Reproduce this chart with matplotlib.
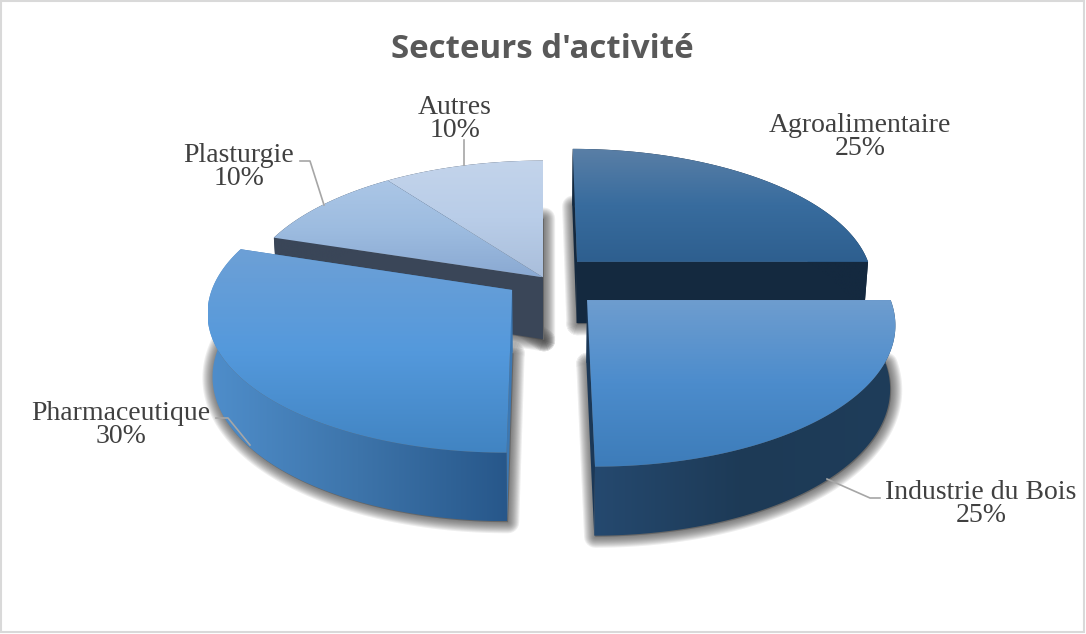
#!/usr/bin/env python
import numpy as np
import matplotlib
matplotlib.use('agg')
import matplotlib.pyplot as plt
from matplotlib.colors import LinearSegmentedColormap
from matplotlib.patches import Polygon, Rectangle

TITLE = "Secteurs d'activité"
sectors = ['Agroalimentaire', 'Industrie du Bois', 'Pharmaceutique', 'Plasturgie', 'Autres']
shares = [25, 25, 30, 10, 10]

# explode offsets of each slice, in pie radii
explode_u = [0.117, 0.145, -0.103, 0.0, 0.0]
explode_v = [0.137, -0.145, -0.073, 0.02, 0.02]

# top face colours (top to bottom of slice)
top_colors = [['#5a7fa6', '#386c9e', '#2e5f8f'],
              ['#6e9dcf', '#4c8ccc', '#3d7cb9'],
              ['#6da0d6', '#5499dc', '#4184c2'],
              ['#abc6e6', '#9dbce0', '#8aa9d2'],
              ['#c3d4eb', '#b9cde8', '#a9bedb']]
# outer wall colours (left to right)
wall_colors = [['#14293f', '#14293f'],
               ['#25496f', '#1d3a56', '#1f3d5a'],
               ['#4f8ecb', '#3d74aa', '#27578a'],
               ['#3a4658', '#3a4658'],
               ['#3a4658', '#3a4658']]
radial_colors = ['#14293f', '#1b3857', '#3c78b3', '#3a4658', '#3a4658']
# which cut faces can be seen (0 = first edge, -1 = last edge)
radial_faces = [[0, -1], [0, -1], [0, -1], [0], []]

# label text anchor, leader line
label_pos = [(860, 137), (981, 504), (121, 425), (239, 167), (455, 119)]
leaders = [None,
           [(827, 479), (870, 498), (880, 498)],
           [(216, 418), (228, 418), (250, 445)],
           [(300, 161), (310, 161), (324, 205)],
           [(464, 140), (464, 165)]]

# perspective of the pie plane
X0, Y0 = 543, 280
A, B, K = 297, 135, 0.15
DEPTH, SHRINK = 62, 0.985

plt.rcParams['font.family'] = ['Liberation Serif', 'DejaVu Serif']


def project(u, v, low=False):
    w = 1 + K * v
    x = X0 + A * u / w
    y = Y0 - B * v / w
    if low:
        x = X0 + (x - X0) * SHRINK
        y = y + DEPTH / w ** 0.57
    return np.column_stack([x, y])


def grad_fill(ax, pts, colors, vertical=True, z=1):
    cmap = LinearSegmentedColormap.from_list('g', colors)
    g = np.linspace(0, 1, 256)
    g = g[:, None] if vertical else g[None, :]
    x0, x1 = pts[:, 0].min(), pts[:, 0].max()
    y0, y1 = pts[:, 1].min(), pts[:, 1].max()
    im = ax.imshow(g, cmap=cmap, vmin=0, vmax=1, extent=(x0, x1, y1, y0),
                   aspect='auto', zorder=z, interpolation='bilinear')
    poly = Polygon(pts, closed=True, transform=ax.transData, fc='none', ec='none')
    ax.add_patch(poly)
    im.set_clip_path(poly)


fig = plt.figure()
fig.set_size_inches(10.86, 6.34)
ax = fig.add_axes([0, 0, 1, 1])
ax.axis('off')

ax.add_patch(Rectangle((1, 1), 1083, 631, fc='white', ec='#d9d9d9', lw=1.5, zorder=0))

edges = np.concatenate([[0], np.cumsum(shares)]) * 3.6
slices = []
for i in range(len(shares)):
    t = np.radians(np.linspace(edges[i], edges[i + 1], 120))
    du, dv = explode_u[i], explode_v[i]
    slices.append((du + np.sin(t), dv + np.cos(t), du, dv))

# drop shadows sit under everything, many faint strokes to fake a blur
for u, v, du, dv in slices:
    low = np.vstack([project(np.array([du]), np.array([dv]), True), project(u, v, True)])
    ring = np.vstack([low, low[:1]]) + [1, 1]
    for lw in np.arange(16, 0, -1.5):
        ax.add_line(plt.Line2D(ring[:, 0], ring[:, 1], color='#444444', lw=lw, alpha=0.09,
                               zorder=1, solid_joinstyle='round', solid_capstyle='round'))
    ax.add_patch(Polygon(ring, closed=True, fc='#666666', ec='none', zorder=1))

# back to front
z = 2
for i in [4, 3, 0, 2, 1]:
    u, v, du, dv = slices[i]
    apex_t = project(np.array([du]), np.array([dv]))
    apex_l = project(np.array([du]), np.array([dv]), True)
    top_arc = project(u, v)
    low_arc = project(u, v, True)
    for k in radial_faces[i]:
        face = np.vstack([apex_t, top_arc[k], low_arc[k], apex_l])
        ax.add_patch(Polygon(face, closed=True, fc=radial_colors[i], ec='none', zorder=z))
        z += 1
    wall = np.vstack([top_arc, low_arc[::-1]])
    grad_fill(ax, wall, wall_colors[i], vertical=False, z=z)
    z += 1
    grad_fill(ax, np.vstack([apex_t, top_arc]), top_colors[i], vertical=True, z=z)
    z += 1

for pts in leaders:
    if pts:
        xs, ys = zip(*pts)
        ax.plot(xs, ys, color='#a6a6a6', lw=1.2, zorder=z)
z += 1

for i, name in enumerate(sectors):
    x, y = label_pos[i]
    ax.text(x, y, '%s\n%d%%' % (name, shares[i]), ha='center', va='center', fontsize=20,
            color='#404040', linespacing=0.85, zorder=z)

ax.text(542, 49, TITLE, ha='center', va='center', fontsize=23.8, fontweight='bold',
        family=['Open Sans', 'DejaVu Sans'], color='#595959', zorder=z)

ax.set_xlim(0, 1086)
ax.set_ylim(634, 0)
fig.savefig('out.png', dpi=100)
